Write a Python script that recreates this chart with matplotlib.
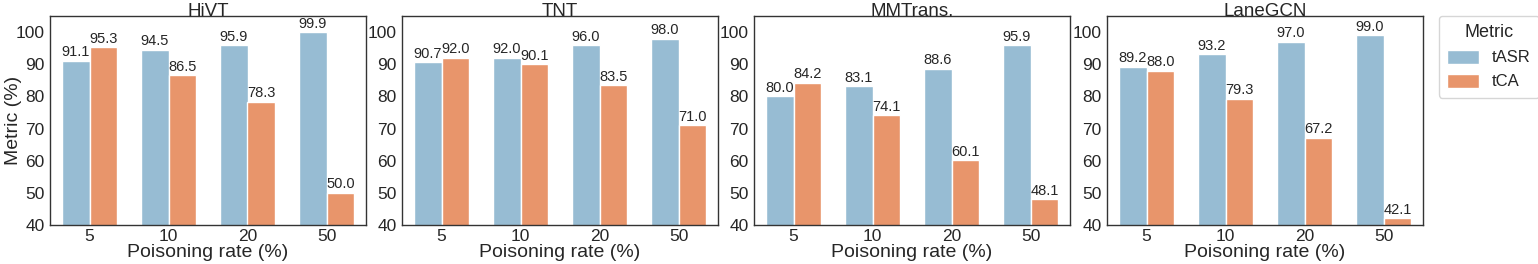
import numpy as np
import matplotlib
matplotlib.use("Agg")
import matplotlib.pyplot as plt
import seaborn as sns

sns.set_style("white")
plt.rcParams['font.family'] = ['Liberation Sans', 'DejaVu Sans']

# data
models = ["HiVT", "TNT", "MMTrans.", "LaneGCN"]
rates = ["5", "10", "20", "50"]
tasr = {
    "HiVT": [91.1, 94.5, 95.9, 99.9],
    "TNT": [90.7, 92.0, 96.0, 98.0],
    "MMTrans.": [80.0, 83.1, 88.6, 95.9],
    "LaneGCN": [89.2, 93.2, 97.0, 99.0],
}
tca = {
    "HiVT": [95.3, 86.5, 78.3, 50.0],
    "TNT": [92.0, 90.1, 83.5, 71.0],
    "MMTrans.": [84.2, 74.1, 60.1, 48.1],
    "LaneGCN": [88.0, 79.3, 67.2, 42.1],
}

c_asr = "#97bcd3"
c_ca = "#e8956b"
txt = "#262626"

fig = plt.figure(figsize=(15.38, 2.64), dpi=100)
lefts = [50, 402, 754, 1107]
w, bottom, top = 316, 39, 248  # in pixels (from bottom)

x = np.arange(len(rates))
bw = 0.35
for i, m in enumerate(models):
    ax = fig.add_axes([lefts[i] / 1538, bottom / 264, w / 1538, (top - bottom) / 264])
    b1 = ax.bar(x - bw / 2, tasr[m], bw, color=c_asr, edgecolor="white", linewidth=1, label="tASR")
    b2 = ax.bar(x + bw / 2, tca[m], bw, color=c_ca, edgecolor="white", linewidth=1, label="tCA")
    ax.bar_label(b1, fmt="%.1f", fontsize=10.5, color=txt, padding=1)
    ax.bar_label(b2, fmt="%.1f", fontsize=10.5, color=txt, padding=1)
    ax.set_ylim(40, 105)
    ax.set_xlim(-0.5, 3.5)
    ax.set_yticks([40, 50, 60, 70, 80, 90, 100])
    ax.set_xticks(x)
    ax.set_xticklabels(rates)
    ax.tick_params(axis="y", labelsize=12.5, colors=txt, length=0, pad=4)
    ax.tick_params(axis="x", labelsize=12.5, colors=txt, length=0, pad=3)
    ax.set_title(m, fontsize=13.5, color=txt, pad=0)
    ax.set_xlabel("Poisoning rate (%)", fontsize=14, color=txt, labelpad=0)
    if i == 0:
        ax.set_ylabel("Metric (%)", fontsize=14, color=txt)
        ax.yaxis.set_label_coords(-0.088, 0.5)
    for s in ax.spines.values():
        s.set_color("#333333")
        s.set_linewidth(1)
    if i == 3:
        ax.legend(title="Metric", loc="upper left", bbox_to_anchor=(1.05, 1.0),
                  borderaxespad=0, fontsize=12, title_fontsize=13, frameon=True,
                  handlelength=1.9, handleheight=0.9, handletextpad=0.8,
                  borderpad=0.5)

fig.savefig("out.png", dpi=100)
